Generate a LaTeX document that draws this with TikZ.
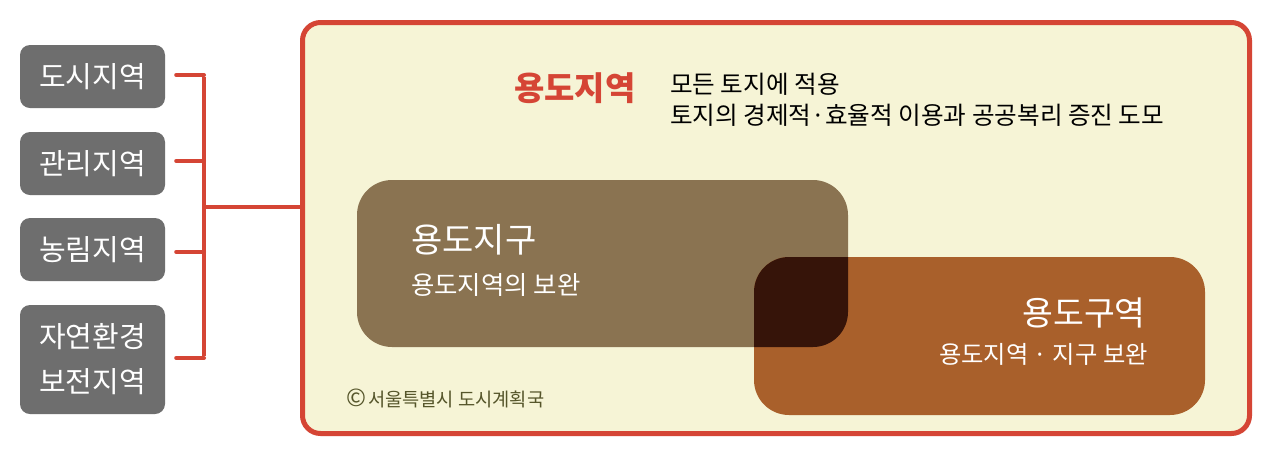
\documentclass[tikz,border=0pt]{standalone}
\usepackage{fontspec}
\setmainfont{Noto Sans CJK KR}
\definecolor{gbox}{HTML}{6E6E6E}
\definecolor{rline}{HTML}{D54535}
\definecolor{beige}{HTML}{F6F4D6}
\definecolor{brwn}{HTML}{8A7351}
\definecolor{orng}{HTML}{A9602B}
\definecolor{dark}{HTML}{361409}
\definecolor{copyc}{HTML}{55552A}
\begin{document}
\begin{tikzpicture}[x=1pt,y=-1pt,
  gray/.style={fill=gbox,rounded corners=10pt,minimum width=145pt,text=white,inner sep=0pt,font=\fontsize{29}{45}\selectfont,align=center},
  brk/.style={draw=rline,line width=4pt},
  lbl/.style={inner sep=0pt}]
\useasboundingbox (0,0) rectangle (1280,448);
\fill[white] (0,0) rectangle (1280,448);
% main frame
\node[draw=rline,fill=beige,line width=5pt,rounded corners=18pt,minimum width=947pt,minimum height=411pt,inner sep=0pt] (main) at (776,228) {};
% gray boxes
\node[gray,minimum height=63pt] (g1) at (92.5,76.5) {도시지역};
\node[gray,minimum height=63pt] (g2) at (92.5,163.5) {관리지역};
\node[gray,minimum height=63pt] (g3) at (92.5,249.5) {농림지역};
\node[gray,minimum height=109pt] (g4) at (92.5,359.5) {자연환경\\보전지역};
% bracket
\coordinate (bt) at (204,75);
\coordinate (bb) at (204,358);
\coordinate (bj) at (204,207);
\draw[brk,line cap=round] ([xshift=11pt]g1.east |- bt) -- (bt);
\draw[brk,line cap=round] ([xshift=11pt]g2.east |- 0,161) -- (204,161);
\draw[brk,line cap=round] ([xshift=11pt]g3.east |- 0,252) -- (204,252);
\draw[brk,line cap=round] ([xshift=11pt]g4.east |- bb) -- (bb);
\draw[brk] ([yshift=-2pt]bt) -- ([yshift=2pt]bb);
\draw[brk] (bj) -- (main.west |- bj);
% overlapping boxes
\node[fill=brwn,rounded corners=35pt,minimum width=491pt,minimum height=167pt,inner sep=0pt] (zg) at (602.5,263.5) {};
\node[fill=orng,rounded corners=35pt,minimum width=451pt,minimum height=158pt,inner sep=0pt] (zk) at (979.5,336) {};
\begin{scope}
\clip[rounded corners=35pt] (357,180) rectangle (848,347);
\fill[dark,rounded corners=35pt] (754,257) rectangle (1205,415);
\end{scope}
% texts
\node[lbl,anchor=west,text=rline,font=\fontsize{33}{36}\selectfont\bfseries] (t1) at (514,88) {용도지역};
\node[lbl,anchor=west,font=\fontsize{24.6}{28}\selectfont] (d1) at (670,84) {모든 토지에 적용};
\node[lbl,anchor=west,font=\fontsize{24.6}{28}\selectfont] (d2) at (670,115) {토지의 경제적·효율적 이용과 공공복리 증진 도모};
\node[lbl,anchor=west,text=white,font=\fontsize{34}{36}\selectfont] (t2) at (411,240) {용도지구};
\node[lbl,anchor=west,text=white,font=\fontsize{25.4}{28}\selectfont] (s2) at (411,285) {용도지역의 보완};
\node[lbl,anchor=east,text=white,font=\fontsize{33.5}{36}\selectfont] (t3) at (1146,313) {용도구역};
\node[lbl,anchor=east,text=white,font=\fontsize{24.3}{28}\selectfont] (s3) at (1148,354) {용도지역 · 지구 보완};
\node[lbl,anchor=west,text=copyc,font=\fontsize{18.7}{20}\selectfont] (cp) at (346,398) {{\fontsize{24}{24}\selectfont ©}\kern2pt 서울특별시 도시계획국};
\end{tikzpicture}
\end{document}
